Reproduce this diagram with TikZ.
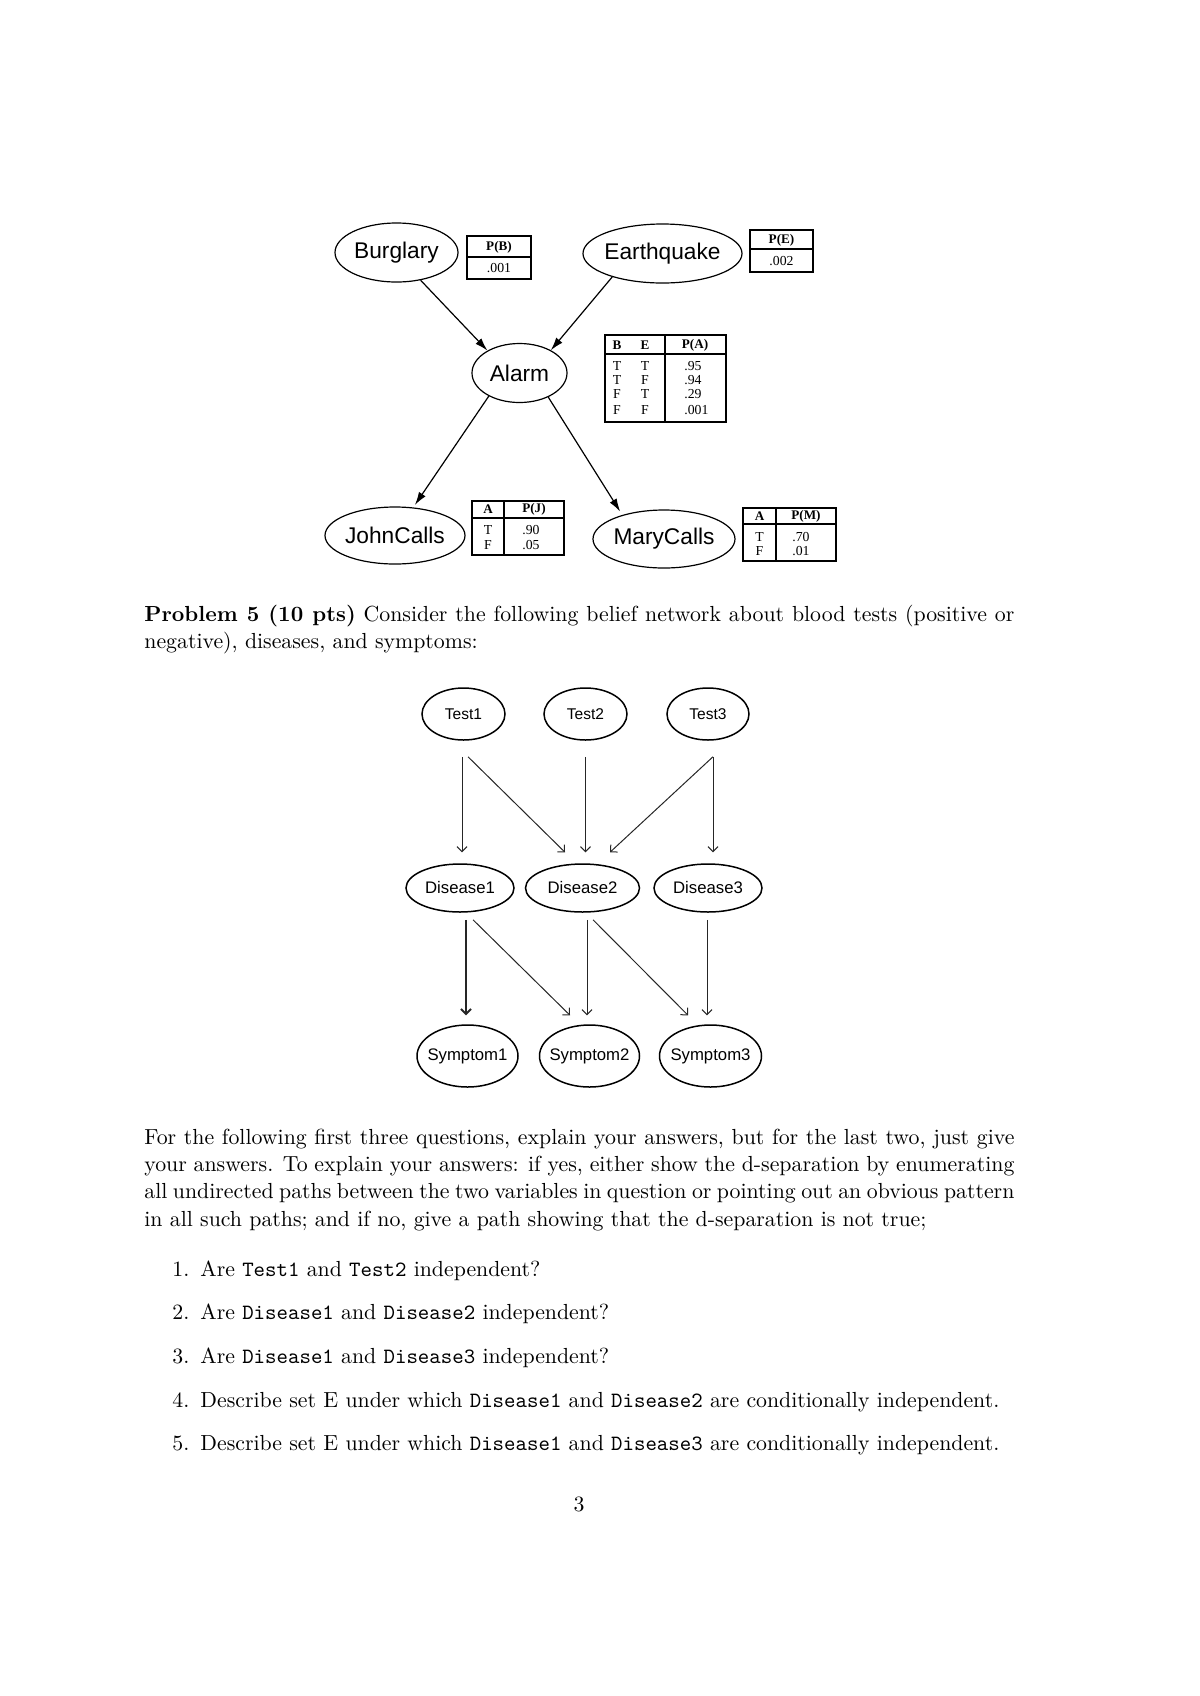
\documentclass[tikz,border=0pt]{standalone}
\usepackage{fontspec}
\newfontfamily\netsans{Liberation Sans}
\newfontfamily\netserif{Liberation Serif}
\usepackage{tikz}
\usetikzlibrary{arrows.meta,calc,shapes.geometric}
\tikzset{
  bignode/.style={draw,ellipse,line width=0.6bp,inner xsep=-4bp,inner ysep=0pt,font=\netsans\fontsize{11.4}{12}\selectfont},
  smallnode/.style={draw,ellipse,line width=0.75bp,inner xsep=-4bp,inner ysep=0pt},
  cpt/.style={line width=0.6bp},
  cptrule/.style={line width=1.1bp},
  cpttext/.style={inner sep=0pt,font=\netserif\fontsize{6.9}{7}\selectfont},
  cpthead/.style={inner sep=0pt,font=\netserif\bfseries\fontsize{6.6}{7}\selectfont},
  bigarrow/.style={-{Latex[length=6.5bp,width=4bp]},line width=0.6bp},
  smallarrow/.style={-{Straight Barb[length=2.5bp,width=5bp]},line width=0.5bp,draw=black!85},
  bodytext/.style={inner sep=0pt,font=\fontsize{10.95}{13.6}\selectfont}
}

\begin{document}
\begin{tikzpicture}[x=0.5bp,y=-0.5bp]
\useasboundingbox (0,0) rectangle (1200,1696);

% alarm network
\node[bignode,minimum width=61.5bp,minimum height=29.5bp] (burglary) at (396.5,252.5) {Burglary};
\node[bignode,minimum width=79.5bp,minimum height=29.5bp] (quake) at (662.5,253.5) {Earthquake};
\node[bignode,minimum width=47.5bp,minimum height=29.5bp] (alarm) at (519.5,373) {Alarm};
\node[bignode,minimum width=70bp,minimum height=28.5bp] (john) at (395,535.5) {JohnCalls};
\node[bignode,minimum width=71bp,minimum height=29bp] (mary) at (664,539) {MaryCalls};
\draw[bigarrow] (burglary.-49) -- (alarm.145);
\draw[bigarrow] (quake.205) -- (alarm.36);
\draw[bigarrow,shorten >=1.5bp] (alarm.217) -- (john.57);
\draw[bigarrow,shorten >=2bp] (alarm.-40) -- (mary.150);

% tables
\draw[cpt] (467,236) rectangle (531,279);
\draw[cptrule] (467,257) -- (531,257);
\node[cpthead] (pbhead) at (499,247) {P(B)};
\node[cpttext] (pbval) at (499,268) {.001};

\draw[cpt] (750,230) rectangle (813,272);
\draw[cptrule] (750,249) -- (813,249);
\node[cpthead] (pehead) at (781.5,240) {P(E)};
\node[cpttext] (peval) at (781.5,261) {.002};

\draw[cpt] (605,335) rectangle (726,422);
\draw[cptrule] (605,354) -- (726,354);
\draw[cpt] (665,335) -- (665,422);
\node[cpthead] (pab) at (617,345) {B};
\node[cpthead] (pae) at (645,345) {E};
\node[cpthead] (pahead) at (695,345) {P(A)};
\node[cpttext] (pab1) at (617,366) {T};
\node[cpttext] (pae1) at (645,366) {T};
\node[cpttext,anchor=west] (paval1) at (684,366) {.95};
\node[cpttext] (pab2) at (617,380) {T};
\node[cpttext] (pae2) at (645,380) {F};
\node[cpttext,anchor=west] (paval2) at (684,380) {.94};
\node[cpttext] (pab3) at (617,394) {F};
\node[cpttext] (pae3) at (645,394) {T};
\node[cpttext,anchor=west] (paval3) at (684,394) {.29};
\node[cpttext] (pab4) at (617,410) {F};
\node[cpttext] (pae4) at (645,410) {F};
\node[cpttext,anchor=west] (paval4) at (684,410) {.001};

\draw[cpt] (472,501) rectangle (564,555);
\draw[cptrule] (472,518) -- (564,518);
\draw[cpt] (504,501) -- (504,555);
\node[cpthead] (pja) at (488,509.5) {A};
\node[cpthead] (pjhead) at (534,509.5) {P(J)};
\node[cpttext] (pja1) at (488,530) {T};
\node[cpttext] (pjval1) at (531,530) {.90};
\node[cpttext] (pja2) at (488,545) {F};
\node[cpttext] (pjval2) at (531,545) {.05};

\draw[cpt] (743,508) rectangle (836,561);
\draw[cptrule] (743,524) -- (836,524);
\draw[cpt] (776,508) -- (776,561);
\node[cpthead] (pma) at (759.5,516) {A};
\node[cpthead] (pmhead) at (806,516) {P(M)};
\node[cpttext] (pma1) at (759.5,537) {T};
\node[cpttext] (pmval1) at (801,537) {.70};
\node[cpttext] (pma2) at (759.5,551) {F};
\node[cpttext] (pmval2) at (801,551) {.01};

% problem statement
\node[bodytext,text width=435bp,align=justify,anchor=north west] (probtext) at (144,605)
  {\textbf{Problem 5 (10 pts)} Consider the following belief network about blood tests (positive or\linebreak negative), diseases, and symptoms:};

% blood test network
\node[smallnode,minimum width=41.5bp,minimum height=26bp,font=\netsans\fontsize{7.8}{8}\selectfont] (test1) at (463.5,714) {Test1};
\node[smallnode,minimum width=41.5bp,minimum height=26bp,font=\netsans\fontsize{7.8}{8}\selectfont] (test2) at (585.5,714) {Test2};
\node[smallnode,minimum width=41bp,minimum height=26bp,font=\netsans\fontsize{7.8}{8}\selectfont] (test3) at (708,714) {Test3};
\node[smallnode,minimum width=54bp,minimum height=24bp,font=\netsans\fontsize{8.4}{9}\selectfont] (dis1) at (460,888) {Disease1};
\node[smallnode,minimum width=57bp,minimum height=24bp,font=\netsans\fontsize{8.4}{9}\selectfont] (dis2) at (582.5,888) {Disease2};
\node[smallnode,minimum width=54bp,minimum height=24bp,font=\netsans\fontsize{8.4}{9}\selectfont] (dis3) at (708,888) {Disease3};
\node[smallnode,minimum width=50.5bp,minimum height=31bp,font=\netsans\fontsize{8.4}{9}\selectfont] (sym1) at (467.5,1056) {Symptom1};
\node[smallnode,minimum width=50bp,minimum height=31bp,font=\netsans\fontsize{8.4}{9}\selectfont] (sym2) at (589.5,1056) {Symptom2};
\node[smallnode,minimum width=51bp,minimum height=31bp,font=\netsans\fontsize{8.4}{9}\selectfont] (sym3) at (710.5,1056) {Symptom3};

\draw[smallarrow] ($(test1.south)+(-1.5,16)$) -- ($(dis1.north)+(2,-11)$);
\draw[smallarrow] ($(test1.south)+(4.5,16)$) -- ($(dis2.north)+(-17.5,-11)$);
\draw[smallarrow] ($(test2.south)+(0,16)$) -- ($(dis2.north)+(3,-11)$);
\draw[smallarrow] ($(test3.south)+(5,16)$) -- ($(dis2.north)+(27.5,-11)$);
\draw[smallarrow] ($(test3.south)+(5,16)$) -- ($(dis3.north)+(5,-11)$);

\draw[smallarrow,line width=0.9bp] ($(dis1.south)+(6,7)$) -- ($(sym1.north)+(-1.5,-9)$);
\draw[smallarrow] ($(dis1.south)+(13,7)$) -- ($(sym2.north)+(-19.5,-9)$);
\draw[smallarrow] ($(dis2.south)+(4.5,7)$) -- ($(sym2.north)+(-2.5,-9)$);
\draw[smallarrow] ($(dis2.south)+(10.5,7)$) -- ($(sym3.north)+(-22.5,-9)$);
\draw[smallarrow] ($(dis3.south)+(-1,7)$) -- ($(sym3.north)+(-3.5,-9)$);

% questions
\node[bodytext,text width=435bp,align=justify,anchor=north west] (intro) at (144,1129)
  {For the following first three questions, explain your answers, but for the last two, just give\linebreak your answers. To explain your answers: if yes, either show the d-separation by enumerating\linebreak all undirected paths between the two variables in question or pointing out an obvious pattern\linebreak in all such paths; and if no, give a path showing that the d-separation is not true;};
\node[bodytext,anchor=base west] (q1) at (172,1276) {\makebox[14bp][l]{1.}Are \texttt{Test1} and \texttt{Test2} independent?};
\node[bodytext,anchor=base west] (q2) at (172,1319) {\makebox[14bp][l]{2.}Are \texttt{Disease1} and \texttt{Disease2} independent?};
\node[bodytext,anchor=base west] (q3) at (172,1363) {\makebox[14bp][l]{3.}Are \texttt{Disease1} and \texttt{Disease3} independent?};
\node[bodytext,anchor=base west] (q4) at (172,1407) {\makebox[14bp][l]{4.}Describe set E under which \texttt{Disease1} and \texttt{Disease2} are conditionally independent.};
\node[bodytext,anchor=base west] (q5) at (172,1450) {\makebox[14bp][l]{5.}Describe set E under which \texttt{Disease1} and \texttt{Disease3} are conditionally independent.};

\node[bodytext] (pagenum) at (579,1504) {3};
\end{tikzpicture}
\end{document}
